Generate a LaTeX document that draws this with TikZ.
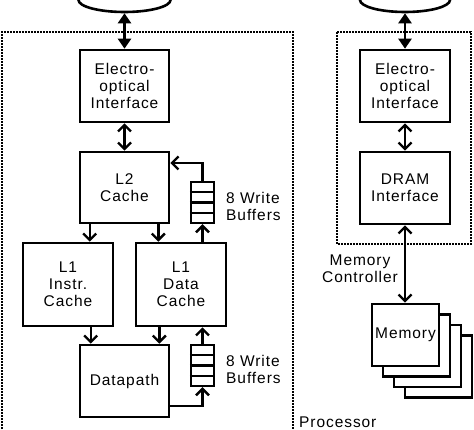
\documentclass[tikz,border=0pt]{standalone}
\usepackage{fontspec}
\setmainfont{Liberation Sans}[LetterSpace=6]
\usetikzlibrary{arrows.meta,shapes.geometric,calc}

\begin{document}
\begin{tikzpicture}[x=1pt, y=-1pt,
	every node/.style={font=\fontsize{15.5}{17}\selectfont, inner sep=0pt},
	unit/.style={draw, line width=2.6pt, fill=white, align=center, minimum width=89pt, minimum height=72pt},
	fibre/.style={draw, ellipse, line width=2.6pt, minimum width=92pt, minimum height=24pt},
	wbuf/.style={draw, line width=2.4pt, minimum width=23pt, minimum height=41pt},
	dotbox/.style={line width=2pt, dash pattern=on 1.7pt off 1.3pt},
	one/.style={line width=2.4pt, -{Straight Barb[length=6.5pt,width=13pt]}},
	two/.style={line width=2.4pt, {Straight Barb[length=6.5pt,width=13pt]}-{Straight Barb[length=6.5pt,width=13pt]}},
	link/.style={line width=2.4pt, {Triangle[length=10pt,width=13pt]}-{Triangle[length=10pt,width=13pt]}}]
	\useasboundingbox (0,0) rectangle (474,430);
	\clip (0,0) rectangle (474,430);

	% processor
	\draw[dotbox] (2,432) -- (2,32) -- (293,32) -- (293,432);
	\node[fibre] (fibL) at (124.5,0) {};
	\node[unit] (eoL) at (124.5,86) {Electro-\\optical\\Interface};
	\node[unit, minimum height=71pt] (l2) at (124.5,187.5) {L2\\Cache};
	\node[unit, minimum width=90pt, minimum height=83pt] (l1i) at (68,284.5) {L1\\Instr.\\Cache};
	\node[unit, minimum width=90pt, minimum height=83pt] (l1d) at (181,284.5) {L1\\Data\\Cache};
	\node[unit] (dp) at (124.5,381) {Datapath};
	\node[wbuf] (wb1) at (202.5,202.5) {};
	\node[wbuf] (wb2) at (202.5,365.5) {};
	\foreach \b in {wb1,wb2}
		\foreach \i in {1,2,3}
			\draw[line width=2.2pt] ($(\b.north west)!\i/4!(\b.south west)$) -- ($(\b.north east)!\i/4!(\b.south east)$);
	\node[align=left, anchor=west] (wt1) at (226,206) {8 Write\\Buffers};
	\node[align=left, anchor=west] (wt2) at (226,369) {8 Write\\Buffers};
	\node[anchor=west] (proc) at (299,422) {Processor};

	\draw[link] (fibL) -- (eoL);
	\draw[two] (eoL) -- (l2);
	\draw[one] ([xshift=11pt]l2.south west) -- ([xshift=11pt]l2.south west |- l1i.north);
	\draw[one] ([xshift=-12pt]l2.south east) -- ([xshift=-12pt]l2.south east |- l1d.north);
	\draw[one] ([xshift=12pt]dp.north west |- l1i.south) -- ([xshift=12pt]dp.north west);
	\draw[one] ([xshift=-11pt]dp.north east |- l1d.south) -- ([xshift=-11pt]dp.north east);
	\draw[one] (wb1.south |- l1d.north) -- (wb1.south);
	\draw[one] (wb1.north) |- ([yshift=24.5pt]l2.east);
	\draw[one] (wb2.north) -- (wb2.north |- l1d.south);
	\draw[one] ([yshift=-25pt]dp.east) -| (wb2.south);

	% memory controller
	\draw[dotbox] (337,32) rectangle (471,244);
	\node[fibre, minimum width=90pt] (fibR) at (405,0) {};
	\node[unit, minimum width=90pt] (eoR) at (405,86) {Electro-\\optical\\Interface};
	\node[unit, minimum width=90pt] (dram) at (405,188) {DRAM\\Interface};
	\foreach \k in {3,2,1}
		\node[unit, minimum width=67pt, minimum height=62pt] (mem\k) at (405.5+11*\k, 335+10.5*\k) {};
	\node[unit, minimum width=67pt, minimum height=62pt] (mem) at (405.5,335) {Memory};
	\node[align=center] (mc) at (360,268.5) {Memory\\Controller};

	\draw[link] (fibR) -- (eoR);
	\draw[two] (eoR) -- (dram);
	\draw[two] (dram.south) -- (dram.south |- mem.north);
\end{tikzpicture}
\end{document}
